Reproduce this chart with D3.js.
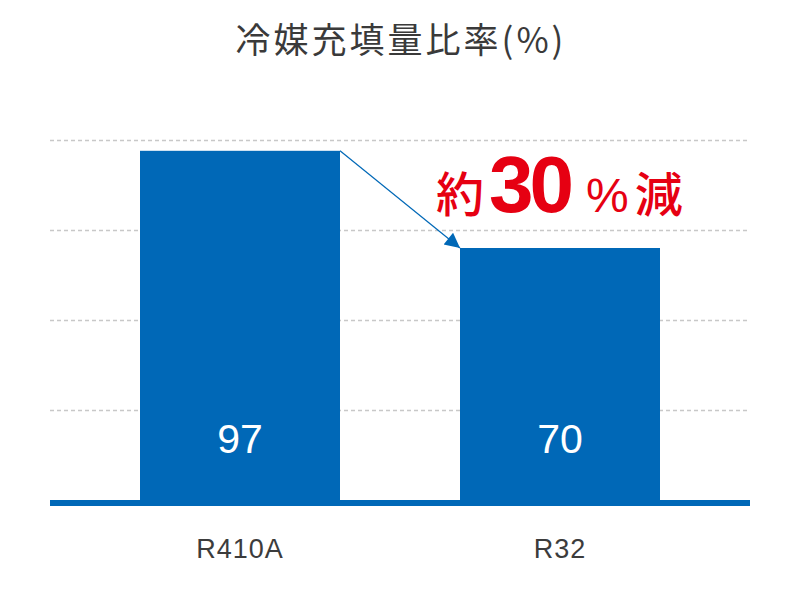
<!DOCTYPE html>
<html lang="ja">
<head>
<meta charset="UTF-8">
<title>冷媒充填量比率</title>
<script src="https://cdn.jsdelivr.net/npm/d3@7"></script>
<style>
  body { margin: 0; background: #fff; }
  svg { display: block; }
  .grid line { stroke: #c8c8c8; stroke-width: 1.6; stroke-dasharray: 4 3; }
  .grid .domain { display: none; }
  .xaxis .domain { display: none; }
  .xaxis line { display: none; }
</style>
</head>
<body>
<div id="chart"></div>
<script>
// data
var categories = ["R410A", "R32"];
var values = [97, 70];
var gridTicks = [25, 50, 75, 100];
var title = "冷媒充填量比率(%)";
var note = { pre: "約", num: "30", pct: "%", post: "減" };

var W = 800, H = 600;
var margin = { top: 140, right: 50, bottom: 100, left: 50 };
var blue = "#0068b7", red = "#e60012";

var svg = d3.select("#chart").append("svg")
  .attr("width", W).attr("height", H);

var x = d3.scaleBand()
  .domain(categories)
  .range([margin.left, W - margin.right])
  .paddingInner(0.375)
  .paddingOuter(0.28125);

var y = d3.scaleLinear()
  .domain([0, 100])
  .range([H - margin.bottom, margin.top]);

// title
svg.append("text")
  .attr("x", W / 2 + 1).attr("y", 53)
  .attr("text-anchor", "middle")
  .style("font-family", "'Noto Sans CJK JP', sans-serif")
  .style("font-size", "35px")
  .style("letter-spacing", "3px")
  .style("fill", "#3a3a3a")
  .text(title);

// dashed gridlines
svg.append("g")
  .attr("class", "grid")
  .attr("transform", "translate(" + margin.left + ",0)")
  .call(d3.axisLeft(y).tickValues(gridTicks).tickSize(-(W - margin.left - margin.right)).tickFormat(""));

// bars
svg.selectAll("rect.bar")
  .data(values)
  .enter().append("rect")
  .attr("class", "bar")
  .attr("x", function (d, i) { return x(categories[i]); })
  .attr("y", function (d) { return y(d); })
  .attr("width", x.bandwidth())
  .attr("height", function (d) { return y(0) - y(d); })
  .style("fill", blue);

// baseline
svg.append("line")
  .attr("x1", margin.left).attr("x2", W - margin.right)
  .attr("y1", y(0) + 3).attr("y2", y(0) + 3)
  .style("stroke", blue).style("stroke-width", 6);

// value labels
svg.selectAll("text.val")
  .data(values)
  .enter().append("text")
  .attr("class", "val")
  .attr("x", function (d, i) { return x(categories[i]) + x.bandwidth() / 2; })
  .attr("y", y(0) - 47)
  .attr("text-anchor", "middle")
  .style("font-family", "'Liberation Sans', Arial, sans-serif")
  .style("font-size", "41px")
  .style("fill", "#fff")
  .text(function (d) { return d; });

// category axis
var xa = svg.append("g")
  .attr("class", "xaxis")
  .attr("transform", "translate(0," + (y(0) + 6) + ")")
  .call(d3.axisBottom(x).tickSize(0).tickPadding(0));
xa.selectAll("text")
  .attr("y", 52).attr("dy", 0)
  .style("font-family", "'Liberation Sans', Arial, sans-serif")
  .style("font-size", "27px")
  .style("letter-spacing", "1px")
  .style("fill", "#3c3c3c");

// arrow from R410A top to R32 top
svg.append("defs").append("marker")
  .attr("id", "head")
  .attr("viewBox", "0 0 10 10")
  .attr("refX", 10).attr("refY", 5)
  .attr("markerUnits", "userSpaceOnUse")
  .attr("markerWidth", 26).attr("markerHeight", 15)
  .attr("orient", "auto")
  .append("path")
  .attr("d", "M0,0 L10,5 L0,10 Z")
  .style("fill", blue);

svg.append("line")
  .attr("x1", x(categories[0]) + x.bandwidth())
  .attr("y1", y(values[0]))
  .attr("x2", x(categories[1]))
  .attr("y2", y(values[1]))
  .style("stroke", blue)
  .style("stroke-width", 1.2)
  .attr("marker-end", "url(#head)");

// reduction note
var t = svg.append("text")
  .attr("x", 436).attr("y", 212)
  .style("fill", red);
t.append("tspan")
  .style("font-family", "'Noto Sans CJK JP', sans-serif")
  .style("font-size", "48px").style("font-weight", 500)
  .text(note.pre);
t.append("tspan")
  .attr("dx", 5)
  .style("font-family", "'Liberation Sans', Arial, sans-serif")
  .style("font-size", "80px").style("font-weight", "bold")
  .style("letter-spacing", "-4px")
  .text(note.num);
t.append("tspan")
  .attr("dx", 16)
  .style("font-family", "'Liberation Sans', Arial, sans-serif")
  .style("font-size", "48px")
  .text(note.pct);
t.append("tspan")
  .attr("dx", 6)
  .style("font-family", "'Noto Sans CJK JP', sans-serif")
  .style("font-size", "48px").style("font-weight", 500)
  .text(note.post);
</script>
</body>
</html>
